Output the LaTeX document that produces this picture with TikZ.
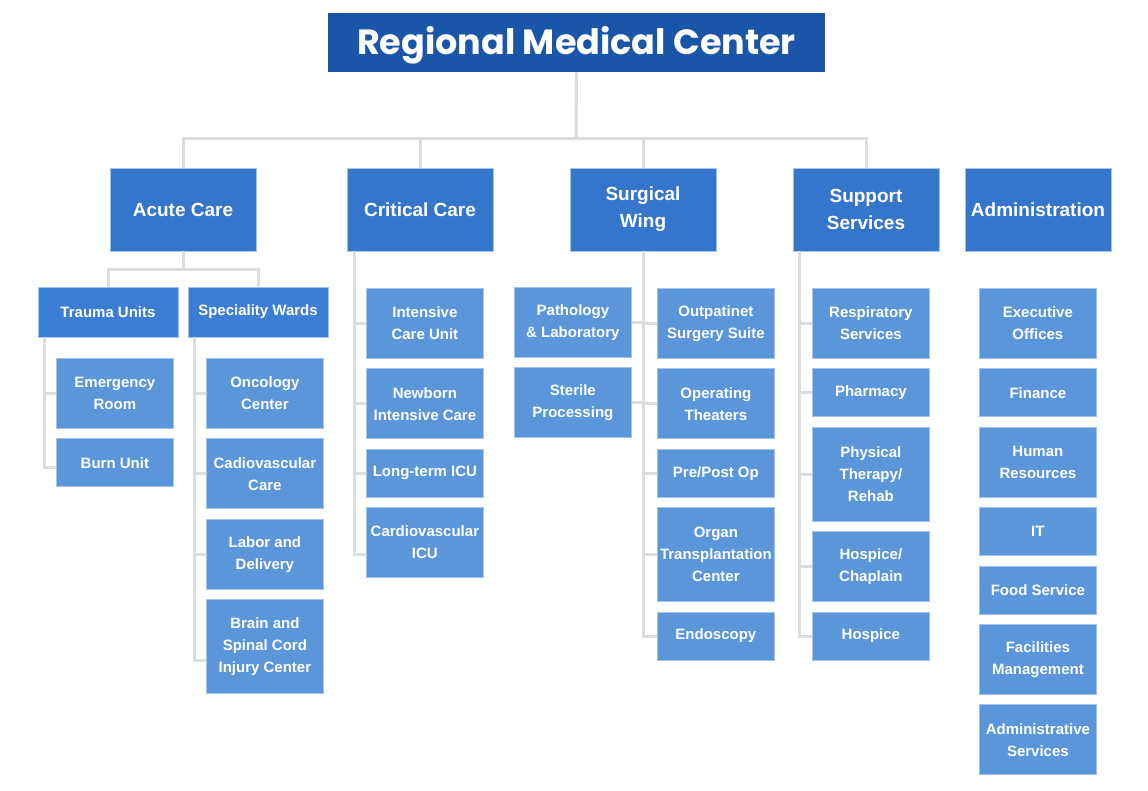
\documentclass[tikz,border=0pt]{standalone}
\usepackage{fontspec}
\setmainfont{Liberation Sans}
\newfontfamily\titlefont{Poppins}
\usetikzlibrary{positioning}
\definecolor{titleblue}{HTML}{1A56A8}
\definecolor{headblue}{HTML}{3476CC}
\definecolor{subblue}{HTML}{3B7ED3}
\definecolor{leafblue}{HTML}{5B96DB}
\definecolor{edgeblue}{HTML}{A4C3EC}
\definecolor{linegray}{HTML}{DADCE0}

\begin{document}
\begin{tikzpicture}[x=1pt, y=-1pt, node distance=9.6pt,
  every node/.style={text=white, align=center, inner sep=2pt},
  link/.style={draw=linegray, line width=3pt},
  rootbox/.style={fill=titleblue, minimum width=497pt, minimum height=59pt, text height=30pt, text depth=6pt, font=\titlefont\bfseries\fontsize{35}{40}\selectfont},
  deptbox/.style={fill=headblue, draw=edgeblue, line width=0.8pt, minimum width=146pt, minimum height=83pt, font=\bfseries\fontsize{19}{27}\selectfont},
  unitbox/.style={fill=subblue, draw=edgeblue, line width=0.8pt, minimum width=140pt, minimum height=50pt, font=\bfseries\fontsize{15}{22}\selectfont},
  leafbox/.style={fill=leafblue, draw=edgeblue, line width=0.8pt, minimum width=117pt, minimum height=48pt, font=\bfseries\fontsize{15}{22}\selectfont},
  twoline/.style={minimum height=70pt},
  threeline/.style={minimum height=94pt}]
\useasboundingbox[fill=white] (0,0) rectangle (1148,791);

% top and departments
\node[rootbox] (rmc) at (576.5,42.5) {Regional Medical Center};
\node[deptbox] (acute) at (183,209.5) {Acute Care};
\node[deptbox] (critical) at (420,209.5) {Critical Care};
\node[deptbox] (surgical) at (643,209.5) {Surgical\\Wing};
\node[deptbox] (support) at (866,209.5) {Support\\Services};
\node[deptbox] (admin) at (1038,209.5) {Administration};

% acute care
\node[unitbox] (trauma) at (108,312) {Trauma Units};
\node[unitbox] (wards) at (258,312) {Speciality Wards};
\node[leafbox, twoline, anchor=north west] (er) at (56,358) {Emergency\\Room};
\node[leafbox, below=of er] (burn) {Burn Unit};
\node[leafbox, twoline, anchor=north west] (onco) at (206,358) {Oncology\\Center};
\node[leafbox, twoline, below=of onco] (cardio) {Cadiovascular\\Care};
\node[leafbox, twoline, below=of cardio] (labor) {Labor and\\Delivery};
\node[leafbox, threeline, below=of labor] (brain) {Brain and\\Spinal Cord\\Injury Center};

% critical care
\node[leafbox, twoline, anchor=north west] (icu) at (366,288) {Intensive\\Care Unit};
\node[leafbox, twoline, below=of icu] (nicu) {Newborn\\Intensive Care};
\node[leafbox, below=of nicu] (lticu) {Long-term ICU};
\node[leafbox, twoline, below=of lticu] (cvicu) {Cardiovascular\\ICU};

% surgical wing
\node[leafbox, twoline, anchor=north west] (path) at (514,287) {Pathology\\\& Laboratory};
\node[leafbox, twoline, below=of path] (sterile) {Sterile\\Processing};
\node[leafbox, twoline, anchor=north west] (outpt) at (657,288) {Outpatinet\\Surgery Suite};
\node[leafbox, twoline, below=of outpt] (optheat) {Operating\\Theaters};
\node[leafbox, below=of optheat] (prepost) {Pre/Post Op};
\node[leafbox, threeline, below=of prepost] (organ) {Organ\\Transplantation\\Center};
\node[leafbox, below=of organ] (endo) {Endoscopy};

% support services
\node[leafbox, twoline, anchor=north west] (resp) at (812,288) {Respiratory\\Services};
\node[leafbox, below=of resp] (pharm) {Pharmacy};
\node[leafbox, threeline, below=of pharm] (pt) {Physical\\Therapy/\\Rehab};
\node[leafbox, twoline, below=of pt] (chap) {Hospice/\\Chaplain};
\node[leafbox, below=of chap] (hosp) {Hospice};

% administration
\node[leafbox, twoline, anchor=north west] (exec) at (979,288) {Executive\\Offices};
\node[leafbox, below=of exec] (fin) {Finance};
\node[leafbox, twoline, below=of fin] (hr) {Human\\Resources};
\node[leafbox, below=of hr] (it) {IT};
\node[leafbox, below=of it] (food) {Food Service};
\node[leafbox, twoline, below=of food] (facil) {Facilities\\Management};
\node[leafbox, twoline, below=of facil] (adsvc) {Administrative\\Services};

% connectors
\coordinate (bus) at (576,139);
\coordinate (split) at (183,270);
\draw[link] (rmc.south) -- (bus);
\draw[link] (acute.north) |- (bus) -| (support.north);
\draw[link] (critical.north) -- (critical.north |- bus);
\draw[link] (surgical.north) -- (surgical.north |- bus);
\draw[link] (acute.south) -- (split);
\draw[link] (trauma.north) |- (split) -| (wards.north);
\draw[link] ([xshift=7pt]trauma.south west) |- (er.west);
\draw[link] ([xshift=7pt]trauma.south west) |- ([yshift=-5pt]burn.west);
\foreach \n in {onco,cardio,labor}
  \draw[link] ([xshift=7pt]wards.south west) |- (\n.west);
\draw[link] ([xshift=7pt]wards.south west) |- ([yshift=-14pt]brain.west);
\foreach \n in {icu,nicu,lticu}
  \draw[link] ([xshift=8pt]critical.south west) |- (\n.west);
\draw[link] ([xshift=8pt]critical.south west) |- ([yshift=-12pt]cvicu.west);
\foreach \n in {path,sterile}
  \draw[link] (surgical.south) |- (\n.east);
\foreach \n in {outpt,optheat,prepost,organ,endo}
  \draw[link] (surgical.south) |- (\n.west);
\foreach \n in {resp,pharm,pt,chap,hosp}
  \draw[link] ([xshift=7pt]support.south west) |- (\n.west);
\end{tikzpicture}
\end{document}
